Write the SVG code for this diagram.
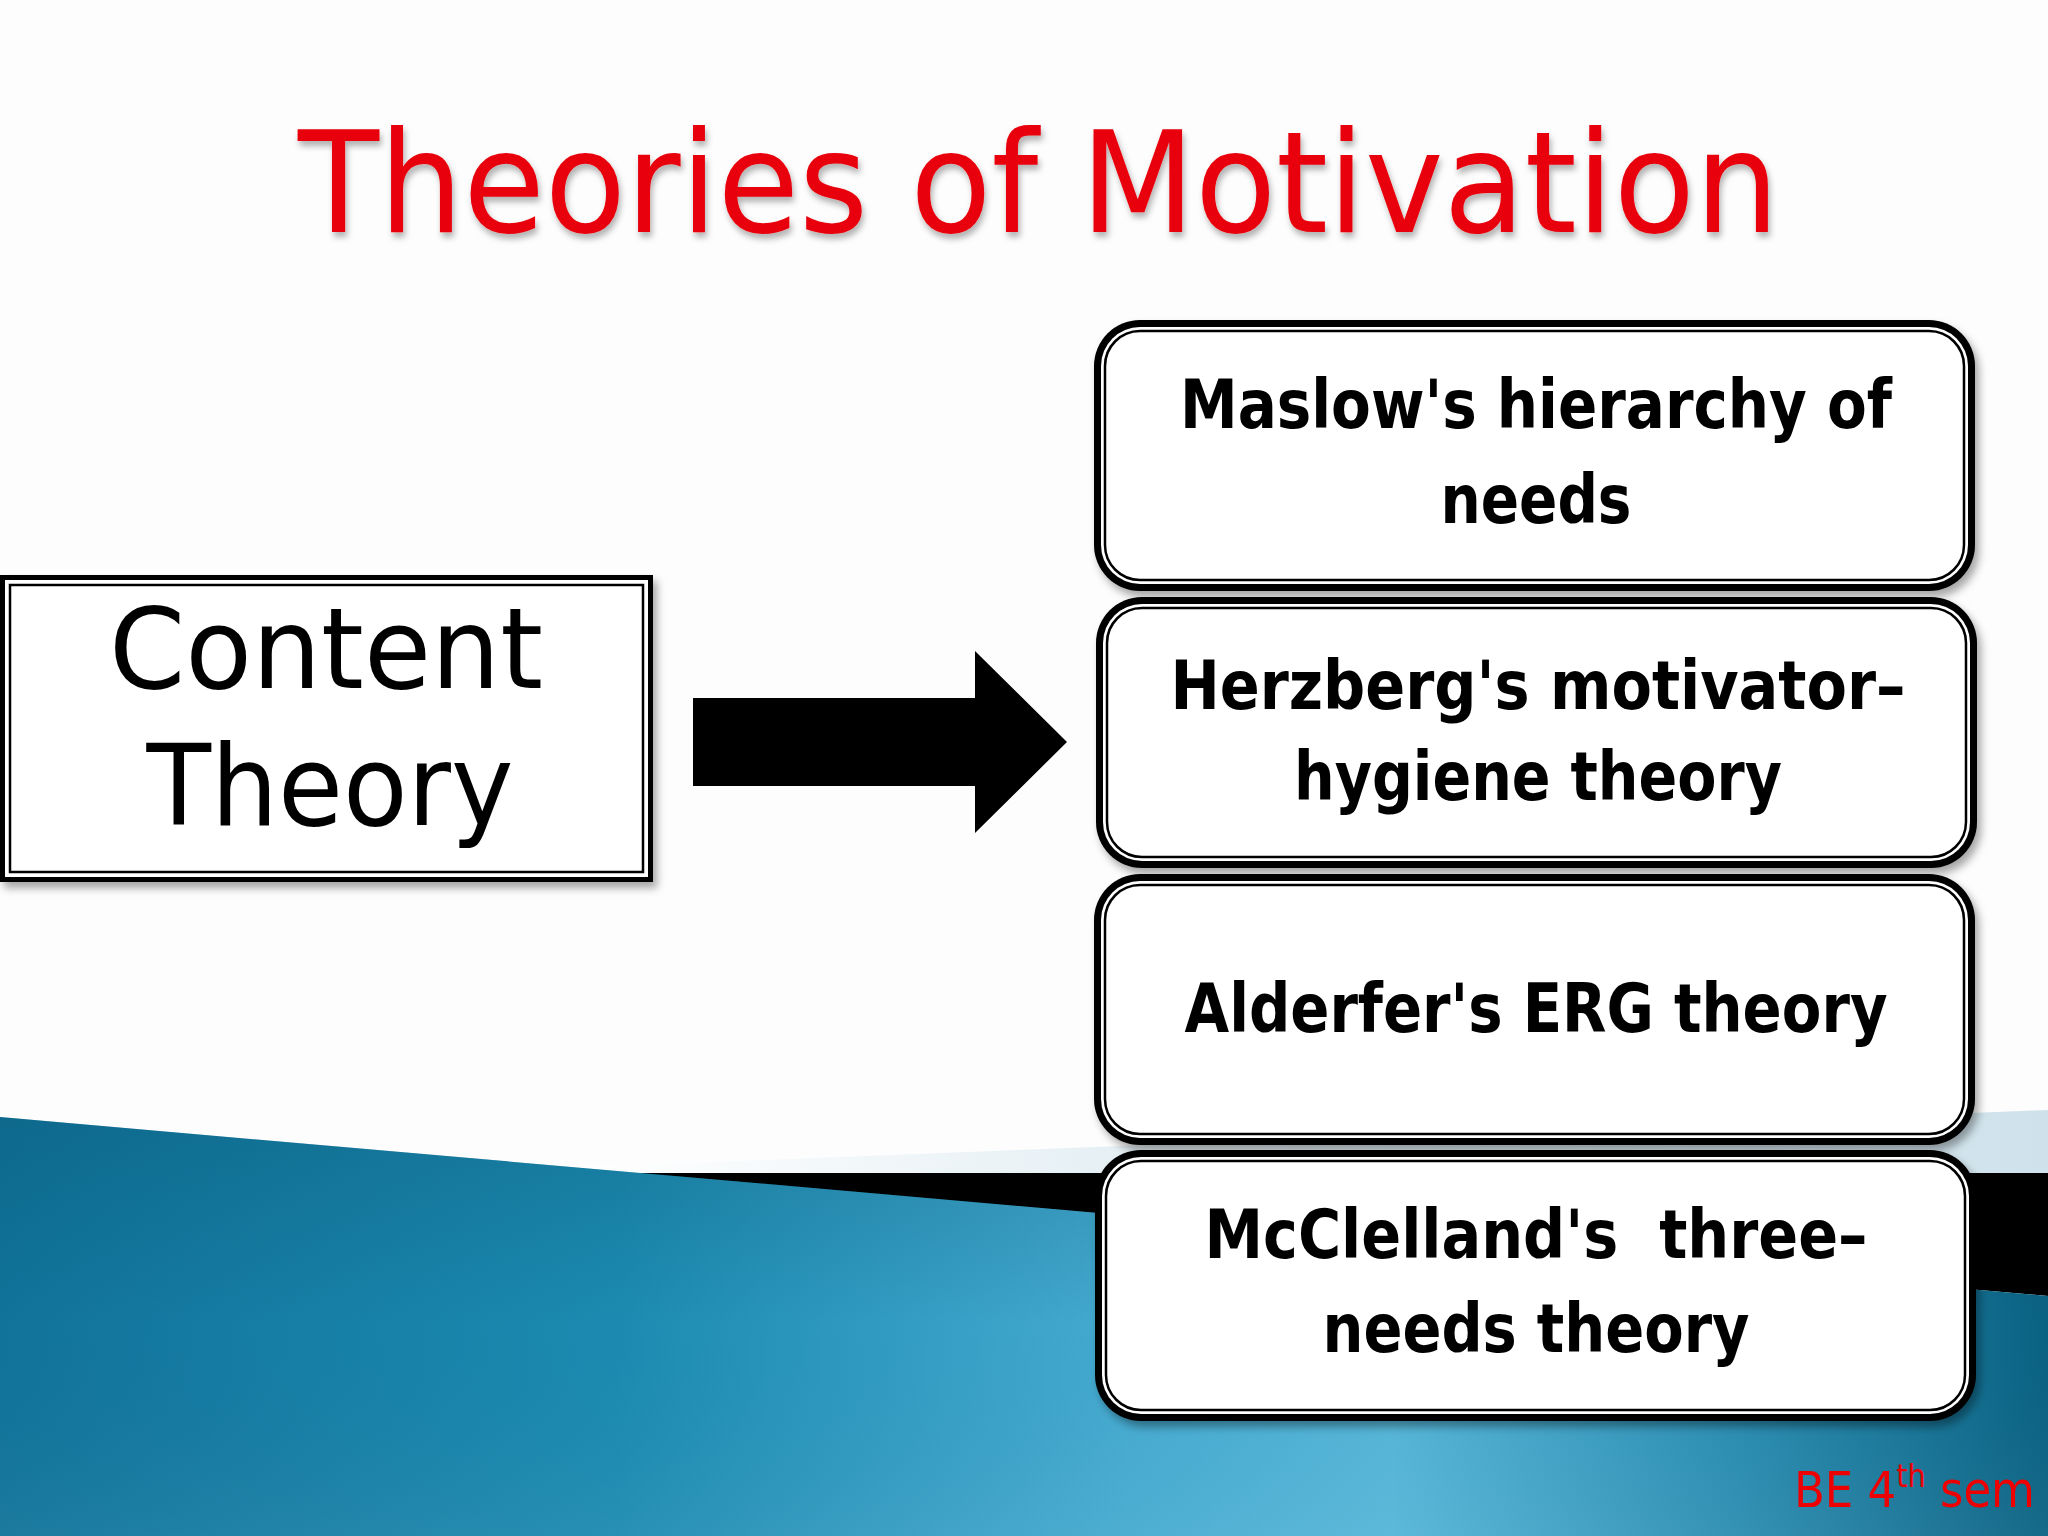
<svg xmlns="http://www.w3.org/2000/svg" width="2048" height="1536" viewBox="0 0 2048 1536">
<style>
.box-text{font-family:"DejaVu Sans Condensed","DejaVu Sans",sans-serif;font-weight:bold;font-size:68px;fill:#000;text-anchor:middle;}
.title{font-family:"DejaVu Sans",sans-serif;font-size:140px;fill:#e8000b;}
.ct{font-family:"DejaVu Sans",sans-serif;font-size:112px;fill:#000;text-anchor:middle;}
.foot{font-family:"DejaVu Sans Condensed","DejaVu Sans",sans-serif;fill:#ee0000;}
</style>
<defs>
<linearGradient id="teal" gradientUnits="userSpaceOnUse" x1="0" y1="0" x2="2048" y2="0">
<stop offset="0" stop-color="#11739a"/>
<stop offset="0.3" stop-color="#1c8ab0"/>
<stop offset="0.55" stop-color="#45aad0"/>
<stop offset="0.68" stop-color="#55b5d8"/>
<stop offset="0.85" stop-color="#2a8cb1"/>
<stop offset="1" stop-color="#0a6282"/>
</linearGradient>
<linearGradient id="tealV" gradientUnits="userSpaceOnUse" x1="0" y1="1110" x2="0" y2="1536">
<stop offset="0" stop-color="#05506c" stop-opacity="0.3"/>
<stop offset="0.5" stop-color="#05506c" stop-opacity="0"/>
<stop offset="1" stop-color="#ffffff" stop-opacity="0.05"/>
</linearGradient>
<linearGradient id="pale" gradientUnits="userSpaceOnUse" x1="580" y1="0" x2="2048" y2="0">
<stop offset="0" stop-color="#ffffff"/>
<stop offset="0.4" stop-color="#e3eef3"/>
<stop offset="1" stop-color="#cfe2eb"/>
</linearGradient>
<filter id="sh" x="-5%" y="-5%" width="112%" height="115%">
<feDropShadow dx="4" dy="6" stdDeviation="4" flood-color="#000" flood-opacity="0.35"/>
</filter>
<filter id="tsh" x="-5%" y="-30%" width="110%" height="170%">
<feDropShadow dx="2" dy="5" stdDeviation="3" flood-color="#000" flood-opacity="0.3"/>
</filter>
</defs>

<!-- background -->
<rect x="0" y="0" width="2048" height="1536" fill="#fdfdfd"/>
<polygon points="581,1167 2048,1110 2048,1180 640,1180" fill="url(#pale)"/>
<polygon points="640,1173 2048,1173 2048,1296 640,1174" fill="#000"/>
<polygon points="0,1117 2048,1296 2048,1536 0,1536" fill="url(#teal)"/>
<polygon points="0,1117 2048,1296 2048,1536 0,1536" fill="url(#tealV)"/>

<!-- title -->
<g filter="url(#tsh)">
<text class="title" x="298" y="232" textLength="1481" lengthAdjust="spacingAndGlyphs">Theories of Motivation</text>
</g>

<!-- connectors -->
<g id="connectors">
<polygon points="693,698 975,698 975,651 1067,742 975,833 975,786 693,786" fill="#000"/>
</g>

<!-- left node -->
<g id="content-theory">
<rect x="0" y="575" width="653" height="307" fill="#000" filter="url(#sh)"/>
<rect x="5" y="580" width="643" height="297" fill="#fff"/>
<rect x="10" y="585" width="633" height="287" fill="none" stroke="#000" stroke-width="2.5"/>
<text class="ct" x="326" y="688" textLength="434" lengthAdjust="spacingAndGlyphs">Content</text>
<text class="ct" x="330" y="825" textLength="367" lengthAdjust="spacingAndGlyphs">Theory</text>
</g>

<!-- right nodes -->
<g id="maslow">
<rect x="1094" y="320" width="881" height="271" rx="46" fill="#000" filter="url(#sh)"/>
<rect x="1101" y="327" width="867" height="257" rx="39" fill="#fff"/>
<rect x="1105" y="331" width="859" height="249" rx="35" fill="none" stroke="#000" stroke-width="2.5"/>
<text class="box-text" x="1536" y="428" textLength="712" lengthAdjust="spacingAndGlyphs">Maslow's hierarchy of</text>
<text class="box-text" x="1536" y="523" textLength="191" lengthAdjust="spacingAndGlyphs">needs</text>
</g>

<g id="herzberg">
<rect x="1096" y="597" width="881" height="271" rx="46" fill="#000" filter="url(#sh)"/>
<rect x="1103" y="604" width="867" height="257" rx="39" fill="#fff"/>
<rect x="1107" y="608" width="859" height="249" rx="35" fill="none" stroke="#000" stroke-width="2.5"/>
<text class="box-text" x="1538" y="709" textLength="735" lengthAdjust="spacingAndGlyphs">Herzberg's motivator–</text>
<text class="box-text" x="1538" y="800" textLength="488" lengthAdjust="spacingAndGlyphs">hygiene theory</text>
</g>

<g id="alderfer">
<rect x="1094" y="874" width="881" height="271" rx="46" fill="#000" filter="url(#sh)"/>
<rect x="1101" y="881" width="867" height="257" rx="39" fill="#fff"/>
<rect x="1105" y="885" width="859" height="249" rx="35" fill="none" stroke="#000" stroke-width="2.5"/>
<text class="box-text" x="1536" y="1032" textLength="703" lengthAdjust="spacingAndGlyphs">Alderfer's ERG theory</text>
</g>

<g id="mcclelland">
<rect x="1095" y="1150" width="881" height="271" rx="46" fill="#000" filter="url(#sh)"/>
<rect x="1102" y="1157" width="867" height="257" rx="39" fill="#fff"/>
<rect x="1106" y="1161" width="859" height="249" rx="35" fill="none" stroke="#000" stroke-width="2.5"/>
<text class="box-text" x="1536" y="1258" textLength="663" lengthAdjust="spacingAndGlyphs" xml:space="preserve">McClelland's  three–</text>
<text class="box-text" x="1536" y="1352" textLength="427" lengthAdjust="spacingAndGlyphs">needs theory</text>
</g>

<!-- footer -->
<text class="foot" x="1794" y="1507" font-size="50">BE 4<tspan dy="-20" font-size="32">th</tspan><tspan dy="20"> sem</tspan></text>
</svg>
